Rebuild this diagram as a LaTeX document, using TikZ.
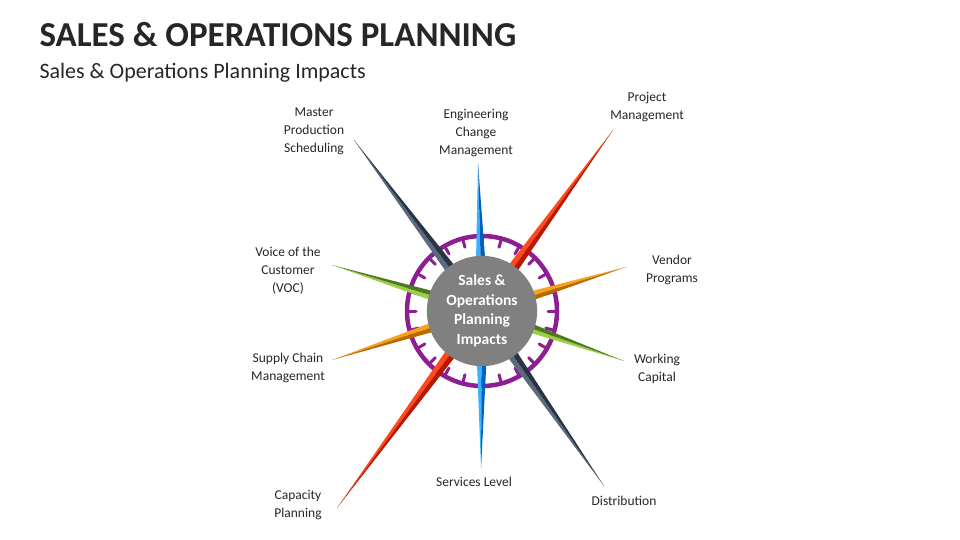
\documentclass[tikz,border=0pt]{standalone}
\usepackage{fontspec}
\setmainfont{Carlito}
\usetikzlibrary{calc}
\definecolor{ring}{HTML}{8E1F92}
\definecolor{hub}{HTML}{808080}
\definecolor{txt}{HTML}{262626}
\definecolor{gL}{HTML}{9BD046}\definecolor{gD}{HTML}{4E7A1E}
\definecolor{oL}{HTML}{F7A21B}\definecolor{oD}{HTML}{B86A00}
\definecolor{dL}{HTML}{5A6B80}\definecolor{dD}{HTML}{283444}
\definecolor{rL}{HTML}{FF4A1A}\definecolor{rD}{HTML}{B81800}
\definecolor{bL}{HTML}{3DB0FF}\definecolor{bD}{HTML}{0060C0}
\begin{document}
\begin{tikzpicture}[x=1pt,y=-1pt,
  lbl/.style={align=center,font=\fontsize{13.5}{18}\selectfont,text=txt,inner sep=1pt}]
\useasboundingbox (0,0) rectangle (960,540);
\node[anchor=west,font=\bfseries\fontsize{35}{40}\selectfont,text=txt] (title) at (36,35) {SALES \& OPERATIONS PLANNING};
\node[anchor=west,font=\fontsize{22}{26}\selectfont,text=txt] (sub) at (36,73) {Sales \& Operations Planning Impacts};
\coordinate (C) at (482,311);
\draw[ring,line width=4.5pt] (C) circle (75);
\foreach \a in {0,15,...,345}{
  \draw[ring,line width=3pt,line cap=round] ($(C)+(\a:73)$) -- ($(C)+(\a:66)$);
}
\newcommand\needle[4]{%
  \coordinate (pL) at ($(C)!7pt!90:(#1)$);
  \coordinate (pR) at ($(C)!7pt!-90:(#1)$);
  \fill[#3] (#1) -- (pL) -- (#2) -- (C) -- cycle;
  \fill[#4] (#1) -- (pR) -- (#2) -- (C) -- cycle;
}
\coordinate (g1) at (332,265); \coordinate (g2) at (624,361);
\coordinate (o1) at (626,267); \coordinate (o2) at (332,360);
\coordinate (d1) at (354,140); \coordinate (d2) at (604,486);
\coordinate (r1) at (613,130); \coordinate (r2) at (337,508);
\coordinate (b1) at (478,163); \coordinate (b2) at (481,468);
\needle{g1}{g2}{gL}{gD}
\needle{o1}{o2}{oL}{oD}
\needle{d1}{d2}{dL}{dD}
\needle{r1}{r2}{rL}{rD}
\needle{b1}{b2}{bL}{bD}
\node[circle,fill=hub,minimum size=110,text=white,align=center,
  font=\bfseries\fontsize{15.5}{19.5}\selectfont] (hubn) at (C) {Sales \&\\Operations\\Planning\\Impacts};
\node[lbl] (l1) at (314,131) {Master\\Production\\Scheduling};
\node[lbl] (l2) at (476,133) {Engineering\\Change\\Management};
\node[lbl] (l3) at (647,107) {Project\\Management};
\node[lbl] (l4) at (672,270) {Vendor\\Programs};
\node[lbl] (l5) at (657,369) {Working\\Capital};
\node[lbl] (l6) at (624,501) {Distribution};
\node[lbl] (l7) at (474,482) {Services Level};
\node[lbl] (l8) at (298,505) {Capacity\\Planning};
\node[lbl] (l9) at (288,368) {Supply Chain\\Management};
\node[lbl] (l10) at (288,271) {Voice of the\\Customer\\(VOC)};
\end{tikzpicture}
\end{document}
